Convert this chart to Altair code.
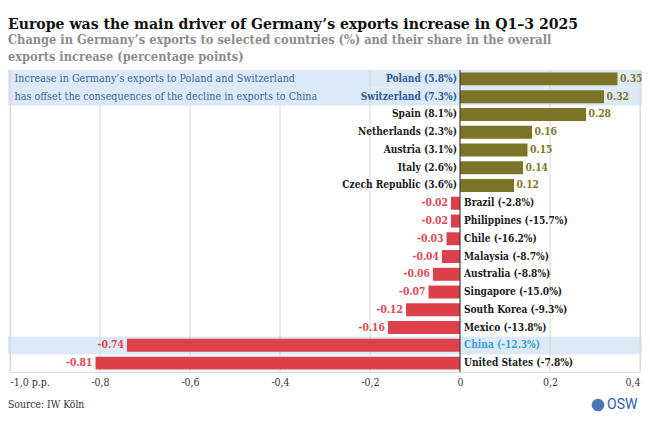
import altair as alt
import pandas as pd

countries = ["Poland", "Switzerland", "Spain", "Netherlands", "Austria", "Italy",
             "Czech Republic", "Brazil", "Philippines", "Chile", "Malaysia", "Australia",
             "Singapore", "South Korea", "Mexico", "China", "United States"]
change_pct = [5.8, 7.3, 8.1, 2.3, 3.1, 2.6, 3.6, -2.8, -15.7, -16.2, -8.7, -8.8,
              -15.0, -9.3, -13.8, -12.3, -7.8]
share_pp = [0.35, 0.32, 0.28, 0.16, 0.15, 0.14, 0.12, -0.02, -0.02, -0.03, -0.04,
            -0.06, -0.07, -0.12, -0.16, -0.74, -0.81]
tick_values = [-1.0, -0.8, -0.6, -0.4, -0.2, 0.0, 0.2, 0.4]
highlight_top = ["Poland", "Switzerland"]
highlight_low = ["China"]
note_lines = ["Increase in Germany’s exports to Poland and Switzerland",
              "has offset the consequences of the decline in exports to China"]

title_text = "Europe was the main driver of Germany’s exports increase in Q1–3 2025"
subtitle_lines = ["Change in Germany’s exports to selected countries (%) and their share in the overall",
                  "exports increase (percentage points)"]
source_text = "Source: IW Köln"

FONT = "DejaVu Serif Condensed, Liberation Serif, serif"
OLIVE = "#7b7428"
RED = "#db404b"
BAND = "#dce9f6"

def label_color(c):
    if c in highlight_top:
        return "#2f5d9e"
    if c in highlight_low:
        return "#3aa3d6"
    return "#1a1a1a"

df = pd.DataFrame({
    "country": countries,
    "pct": change_pct,
    "share": share_pp,
})
df["label"] = [f"{c} ({p:.1f}%)" for c, p in zip(countries, change_pct)]
df["value_text"] = [f"{v:.2f}" for v in share_pp]
df["lcolor"] = [label_color(c) for c in countries]
df["sign"] = ["pos" if v >= 0 else "neg" for v in share_pp]

band_df = pd.DataFrame({"country": highlight_top + highlight_low})
note_df = pd.DataFrame({"country": highlight_top, "text": note_lines})
tick_df = pd.DataFrame({"share": tick_values})

W, H = 630, 302

yenc = alt.Y("country:N", sort=countries, axis=None,
             scale=alt.Scale(paddingInner=0, paddingOuter=0))

label_expr = ("datum.value == 0 ? '0' : (abs(datum.value + 1) < 0.001 ? '-1,0 p.p.' : "
              "(datum.value < 0 ? '-' : '') + replace(format(abs(datum.value), '.1f'), '.', ','))")

xenc = alt.X("share:Q", title=None,
             scale=alt.Scale(domain=[-1.0, 0.4], nice=False, zero=False),
             axis=alt.Axis(values=tick_values, grid=False, domain=False, ticks=False,
                           labelExpr=label_expr, labelFont=FONT, labelFontSize=10.5,
                           labelColor="#333333", labelPadding=5, labelFlush=True))

bands = alt.Chart(band_df).mark_rect(color=BAND).encode(
    x=alt.value(-2), x2=alt.value(W + 2), y=yenc)

grid = alt.Chart(tick_df).mark_rule(color="#d6d6d6", strokeWidth=1).encode(x=xenc)

note_box = alt.Chart(note_df).mark_rect(color=BAND).encode(
    x=alt.datum(-0.997), x2=alt.datum(-0.203), y=yenc)

bars = alt.Chart(df).mark_bar(height={"band": 0.73}).encode(
    x=xenc, x2=alt.datum(0), y=yenc,
    color=alt.Color("sign:N", scale=alt.Scale(domain=["pos", "neg"], range=[OLIVE, RED]),
                    legend=None))

zero = alt.Chart(tick_df[tick_df["share"] == 0]).mark_rule(color="#333333", strokeWidth=1).encode(x=xenc)

pos = df[df["share"] >= 0]
neg = df[df["share"] < 0]

LAB_SIZE = 10.1
VAL_SIZE = 10.3

lab_pos = alt.Chart(pos).mark_text(align="right", baseline="middle", dx=-3, font=FONT,
                                   fontSize=LAB_SIZE, fontWeight="bold").encode(
    x=alt.datum(0), y=yenc, text="label:N", color=alt.Color("lcolor:N", scale=None))
lab_neg = alt.Chart(neg).mark_text(align="left", baseline="middle", dx=4, font=FONT,
                                   fontSize=LAB_SIZE, fontWeight="bold").encode(
    x=alt.datum(0), y=yenc, text="label:N", color=alt.Color("lcolor:N", scale=None))

val_pos = alt.Chart(pos).mark_text(align="left", baseline="middle", dx=2.5, font=FONT,
                                   fontSize=VAL_SIZE, fontWeight="bold", color="#7f782a").encode(
    x=xenc, y=yenc, text="value_text:N")
val_neg = alt.Chart(neg).mark_text(align="right", baseline="middle", dx=-3, font=FONT,
                                   fontSize=VAL_SIZE, fontWeight="bold", color="#e04652").encode(
    x=xenc, y=yenc, text="value_text:N")

note = alt.Chart(note_df).mark_text(align="left", baseline="middle", font=FONT,
                                    fontSize=10.7, color="#3d68a8").encode(
    x=alt.datum(-0.99), y=yenc, text="text:N")

FOOT_Y = H + 33

source = alt.Chart(pd.DataFrame({"t": [source_text]})).mark_text(
    align="left", baseline="middle", font=FONT, fontSize=10.3, color="#333333").encode(
    x=alt.value(-2), y=alt.value(FOOT_Y), text="t:N")

globe = alt.Chart(pd.DataFrame({"t": ["OSW"]})).mark_point(
    shape="circle", filled=True, size=160, color="#2b5ea7", opacity=0.85).encode(
    x=alt.value(588), y=alt.value(FOOT_Y))
osw = alt.Chart(pd.DataFrame({"t": ["OSW"]})).mark_text(
    align="left", baseline="middle", font="Roboto", fontSize=14, color="#2b5ea7").encode(
    x=alt.value(597), y=alt.value(FOOT_Y), text="t:N")

chart = alt.layer(bands, grid, note_box, bars, zero, lab_pos, lab_neg, val_pos, val_neg,
                  note, source, globe, osw).properties(
    width=W, height=H,
    padding={"left": 2, "top": 62, "right": 2, "bottom": 40},
    autosize=alt.AutoSizeParams(type="none"),
    title=alt.TitleParams(
        text=title_text, subtitle=subtitle_lines, anchor="start", frame="group", dx=-2,
        font=FONT, fontSize=15.65, fontWeight="bold", color="#111111",
        subtitleFont=FONT, subtitleFontSize=12.7, subtitleFontWeight="bold",
        subtitleColor="#8c8c8c", subtitleLineHeight=17, subtitlePadding=1, offset=5),
).configure_view(stroke=None).configure(background="white")

chart.save("out.html", embed_options={"renderer": "svg", "actions": False})
